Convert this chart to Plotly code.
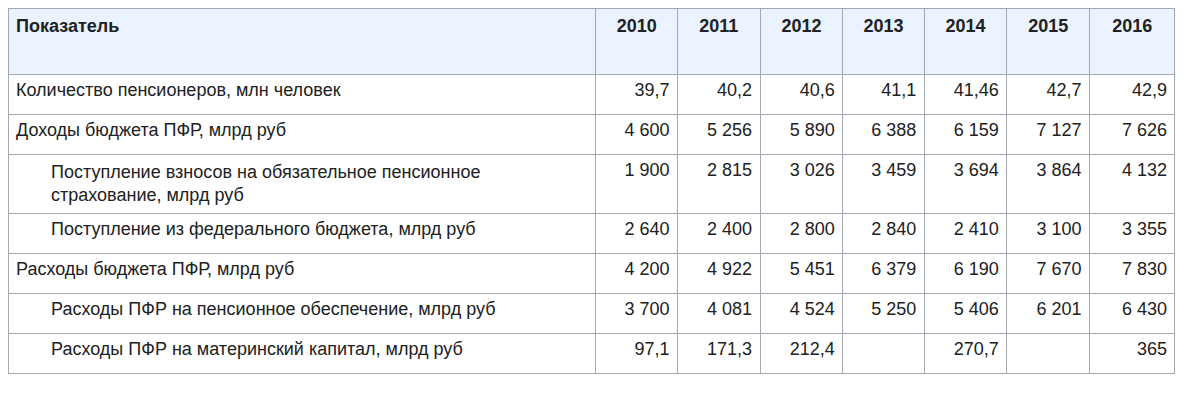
import plotly.graph_objects as go

years = ["2010", "2011", "2012", "2013", "2014", "2015", "2016"]
indicators = [
    "Количество пенсионеров, млн человек",
    "Доходы бюджета ПФР, млрд руб",
    "\u00a0\u00a0\u00a0\u00a0\u00a0\u00a0\u00a0Поступление взносов на обязательное пенсионное<br>\u00a0\u00a0\u00a0\u00a0\u00a0\u00a0\u00a0страхование, млрд руб",
    "\u00a0\u00a0\u00a0\u00a0\u00a0\u00a0\u00a0Поступление из федерального бюджета, млрд руб",
    "Расходы бюджета ПФР, млрд руб",
    "\u00a0\u00a0\u00a0\u00a0\u00a0\u00a0\u00a0Расходы ПФР на пенсионное обеспечение, млрд руб",
    "\u00a0\u00a0\u00a0\u00a0\u00a0\u00a0\u00a0Расходы ПФР на материнский капитал, млрд руб",
]
v2010 = ["39,7", "4 600", "1 900", "2 640", "4 200", "3 700", "97,1"]
v2011 = ["40,2", "5 256", "2 815", "2 400", "4 922", "4 081", "171,3"]
v2012 = ["40,6", "5 890", "3 026", "2 800", "5 451", "4 524", "212,4"]
v2013 = ["41,1", "6 388", "3 459", "2 840", "6 379", "5 250", ""]
v2014 = ["41,46", "6 159", "3 694", "2 410", "6 190", "5 406", "270,7"]
v2015 = ["42,7", "7 127", "3 864", "3 100", "7 670", "6 201", ""]
v2016 = ["42,9", "7 626", "4 132", "3 355", "7 830", "6 430", "365"]

border = "#a2a9b1"
fig = go.Figure(go.Table(
    columnwidth=[598, 83, 84, 84, 83, 84, 84, 87],
    header=dict(
        values=["<b>Показатель</b>"] + [f"<b>{y}</b>" for y in years],
        fill_color="#eaf3ff",
        line_color=border,
        align=["left"] + ["center"] * 7,
        font=dict(family="Liberation Sans, Arial", size=18, color="#202122"),
        height=66,
    ),
    cells=dict(
        values=[indicators, v2010, v2011, v2012, v2013, v2014, v2015, v2016],
        fill_color="white",
        line_color=border,
        align=["left"] + ["right"] * 7,
        font=dict(family="Liberation Sans, Arial", size=18, color="#202122"),
        height=40,
    ),
    domain=dict(x=[0, 0.985], y=[0, 1]),
))
fig.update_layout(width=1193, height=404, margin=dict(l=0, r=8, t=0, b=0),
                  paper_bgcolor="white")
fig.write_html("out.html")
